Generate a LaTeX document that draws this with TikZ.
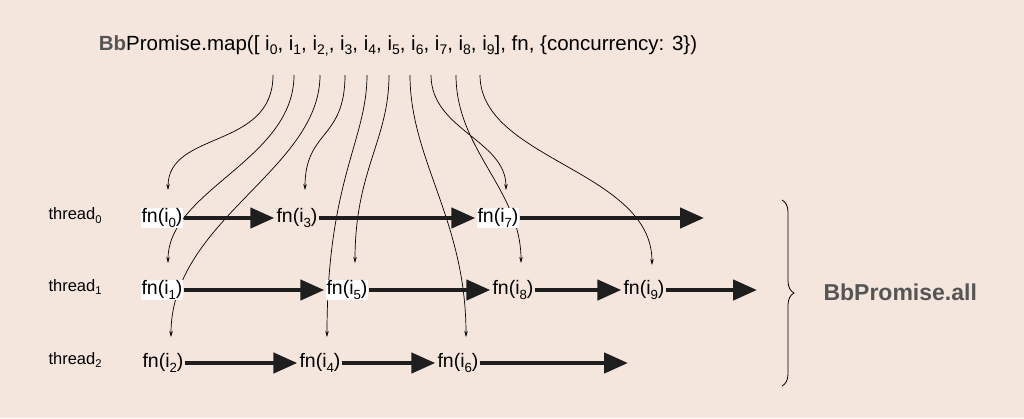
\documentclass[tikz,border=0pt]{standalone}
\usepackage{fontspec}
\setmainfont{Liberation Sans}
\usetikzlibrary{arrows.meta,decorations.pathreplacing}
\definecolor{bg}{HTML}{F4E5DD}
\definecolor{dg}{HTML}{555555}
\definecolor{ar}{HTML}{1E1E1E}
\newcommand{\sbs}[1]{\raisebox{-0.45ex}{\fontsize{0.68em}{0.7em}\selectfont #1}}
\begin{document}
\begin{tikzpicture}[x=1pt,y=-1pt,
  fn/.style={inner sep=1pt,font=\fontsize{19.5}{22}\selectfont},
  wfn/.style={fn,fill=white},
  th/.style={font=\fontsize{16.5}{18}\selectfont,anchor=west},
  big/.style={ar,line width=4.5pt,-{Triangle[length=24pt,width=20pt]},shorten >=1pt},
  cv/.style={line width=0.7pt,-{Stealth[length=6pt,width=3.5pt]}}]
\fill[bg] (0,0) rectangle (1024,418);
\useasboundingbox (0,0) rectangle (1024,418);
\node[font=\fontsize{20.5}{23}\selectfont] (title) at (398,46)
 {{\color{dg}\bfseries Bb}Promise.map([ i\sbs{0}, i\sbs{1}, i\sbs{2,}, i\sbs{3}, i\sbs{4}, i\sbs{5}, i\sbs{6}, i\sbs{7}, i\sbs{8}, i\sbs{9}], fn, \{concurrency: 3\})};
\node[th] (t0) at (45,216) {thread\sbs{0}};
\node[th] (t1) at (45,287) {thread\sbs{1}};
\node[th] (t2) at (45,360) {thread\sbs{2}};
\foreach \n/\sx in {0/273,1/294,2/320,3/345,4/367,5/389,6/410,7/431,8/456,9/480}{\coordinate (s\n) at (\sx,75);}
\coordinate (e0) at (168,190);\coordinate (e1) at (168,263);\coordinate (e2) at (171,337);
\coordinate (e3) at (305,190);\coordinate (e4) at (327,337);\coordinate (e5) at (355,263);
\coordinate (e6) at (466,337);\coordinate (e7) at (506,190);\coordinate (e8) at (521,263);
\coordinate (e9) at (652,265);
\draw[cv] (s0) .. controls (273,150) and (168,130) .. (e0);
\draw[cv] (s1) .. controls (294,160) and (168,190) .. (e1);
\draw[cv] (s2) .. controls (320,170) and (171,220) .. (e2);
\draw[cv] (s3) .. controls (345,140) and (305,130) .. (e3);
\draw[cv] (s4) .. controls (367,140) and (327,180) .. (e4);
\draw[cv] (s5) .. controls (389,140) and (355,170) .. (e5);
\draw[cv] (s6) .. controls (410,160) and (466,220) .. (e6);
\draw[cv] (s7) .. controls (431,130) and (506,140) .. (e7);
\draw[cv] (s8) .. controls (456,150) and (521,190) .. (e8);
\draw[cv] (s9) .. controls (480,160) and (652,170) .. (e9);
\node[wfn] (f0) at (162,218) {fn(i\sbs{0})};
\node[fn]  (f3) at (297,218) {fn(i\sbs{3})};
\node[wfn] (f7) at (498,218) {fn(i\sbs{7})};
\node[wfn] (f1) at (162,290) {fn(i\sbs{1})};
\node[wfn] (f5) at (347,290) {fn(i\sbs{5})};
\node[fn]  (f8) at (513,290) {fn(i\sbs{8})};
\node[fn]  (f9) at (644,290) {fn(i\sbs{9})};
\node[fn]  (f2) at (163,363) {fn(i\sbs{2})};
\node[fn]  (f4) at (320,363) {fn(i\sbs{4})};
\node[fn]  (f6) at (458,363) {fn(i\sbs{6})};
\coordinate (x0) at (705,218);\coordinate (x1) at (758,290);\coordinate (x2) at (629,363);
\draw[big] (f0) -- (f3);\draw[big] (f3) -- (f7);\draw[big] (f7) -- (x0);
\draw[big] (f1) -- (f5);\draw[big] (f5) -- (f8);\draw[big] (f8) -- (f9);\draw[big] (f9) -- (x1);
\draw[big] (f2) -- (f4);\draw[big] (f4) -- (f6);\draw[big] (f6) -- (x2);
\coordinate (b1) at (782,200);\coordinate (b2) at (782,386);
\draw[line width=0.8pt,decorate,decoration={brace,amplitude=12pt}] (b1) -- (b2);
\node[font=\fontsize{23}{26}\selectfont\bfseries,text=dg,anchor=west] (all) at (820,292) {BbPromise.all};
\end{tikzpicture}
\end{document}
